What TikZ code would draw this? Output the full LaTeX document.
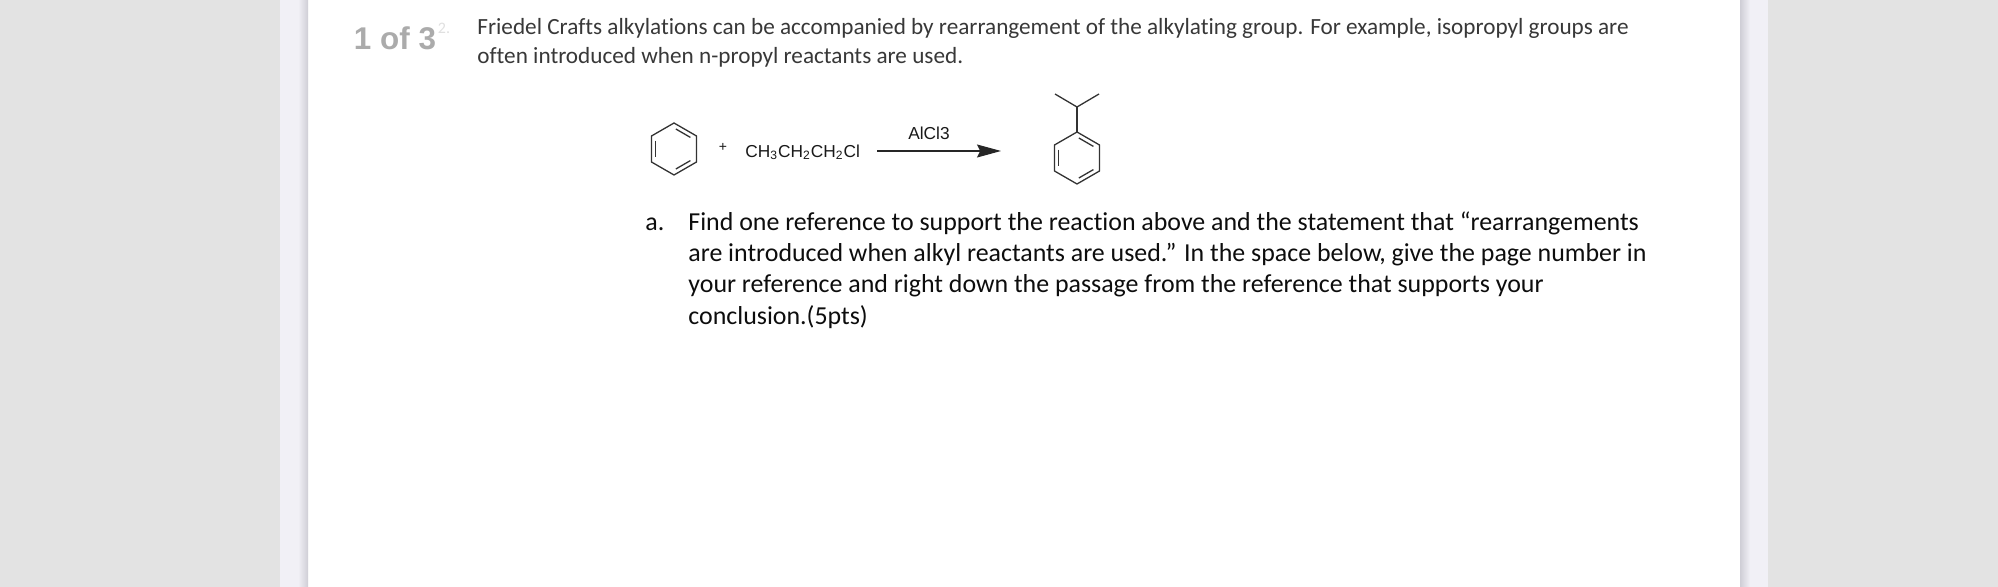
\documentclass[tikz,border=0pt]{standalone}
\usepackage{fontspec}
\setmainfont[Ligatures=NoCommon]{Carlito}
\newfontfamily\chemfont{Liberation Sans}
\usetikzlibrary{arrows.meta,calc,positioning,shapes.geometric}

\begin{document}
\begin{tikzpicture}[
    x = 0.5pt, y = -0.5pt,
    ring/.style = {regular polygon, regular polygon sides=6, shape border rotate=30, draw=bondcol, line width=0.65pt, minimum size=26pt, inner sep=0pt, outer sep=0pt},
    bond/.style = {draw=bondcol, line width=0.65pt},
    arrow/.style = {-{Stealth[length=12pt, width=6.5pt, inset=1.6pt]}, draw=black!85, line width=0.6pt},
    chem/.style = {font=\chemfont\fontsize{8.65}{11}\selectfont, inner sep=0pt, text=black!90},
    intro/.style = {font=\fontsize{11.6}{14.6}\selectfont, align=left, anchor=north west, inner sep=0pt, text=black!78},
    body/.style = {font=\fontsize{12.95}{15.65}\selectfont, align=left, anchor=north west, inner sep=0pt, text=black!95}
]
\definecolor{bondcol}{HTML}{333333}
\definecolor{pagegray}{HTML}{E3E3E3}
\definecolor{bandcol}{HTML}{F1F0F6}
\definecolor{edgecol}{HTML}{CFCED6}
\useasboundingbox (0,0) rectangle (1998,587);

% Page background
\fill[pagegray] (0,0) rectangle (1998,587);
\fill[bandcol] (280,0) rectangle (1768,587);
\fill[white] (308,0) rectangle (1740,587);
\shade[left color=bandcol, right color=edgecol] (298,0) rectangle (308,587);
\shade[left color=edgecol, right color=bandcol] (1740,0) rectangle (1750,587);

% Page counter
\node[font=\chemfont\fontsize{15.7}{18}\selectfont\bfseries, text=black!33, inner sep=0pt] (counter) at (395,38) {1 of 3};
\node[font=\fontsize{8}{9}\selectfont, text=black!12, inner sep=0pt] (number) at (444,28) {2.};

% Intro text
\node[intro] (intro) at (477,18) {Friedel Crafts alkylations can be accompanied by rearrangement of the alkylating group. For example, isopropyl groups are\\often introduced when n-propyl reactants are used.};

% Reactants
\node[ring] (benzene) at (674,149) {};
\node[chem, font=\chemfont\fontsize{7}{8}\selectfont] (plus) at (723,147) {+};
\node[chem, anchor=west] (propyl) at (745,152) {CH\textsubscript{3}CH\textsubscript{2}CH\textsubscript{2}Cl};

% Product
\node[ring] (cumene) at (1077,158) {};
\coordinate (branch) at (1077,107);
\coordinate (methylA) at (1055,94);
\coordinate (methylB) at (1099,94);

% Arrow
\coordinate (arrowstart) at (877,151);
\coordinate (arrowend) at (1001,151);
\node[chem] (catalyst) at (929,133) {AlCl3};
\draw[arrow] (arrowstart) -- (arrowend);

% Ring double bonds
\foreach \ringname in {benzene,cumene} {
    \foreach \i/\j in {1/6,2/3,4/5} {
        \coordinate (inA) at ($(\ringname.center)!0.81!(\ringname.corner \i)$);
        \coordinate (inB) at ($(\ringname.center)!0.81!(\ringname.corner \j)$);
        \draw[bond] ($(inA)!0.1!(inB)$) -- ($(inB)!0.1!(inA)$);
    }
}

% Isopropyl group
\draw[bond] (cumene.corner 1) -- (branch);
\draw[bond] (branch) -- (methylA);
\draw[bond] (branch) -- (methylB);

% Question
\node[body] (label) at (645,208) {\strut a.};
\node[body] (question) at (688,208) {\strut Find one reference to support the reaction above and the statement that “rearrangements\\are introduced when alkyl reactants are used.” In the space below, give the page number in\\your reference and right down the passage from the reference that supports your\\conclusion.(5pts)};

\end{tikzpicture}
\end{document}
